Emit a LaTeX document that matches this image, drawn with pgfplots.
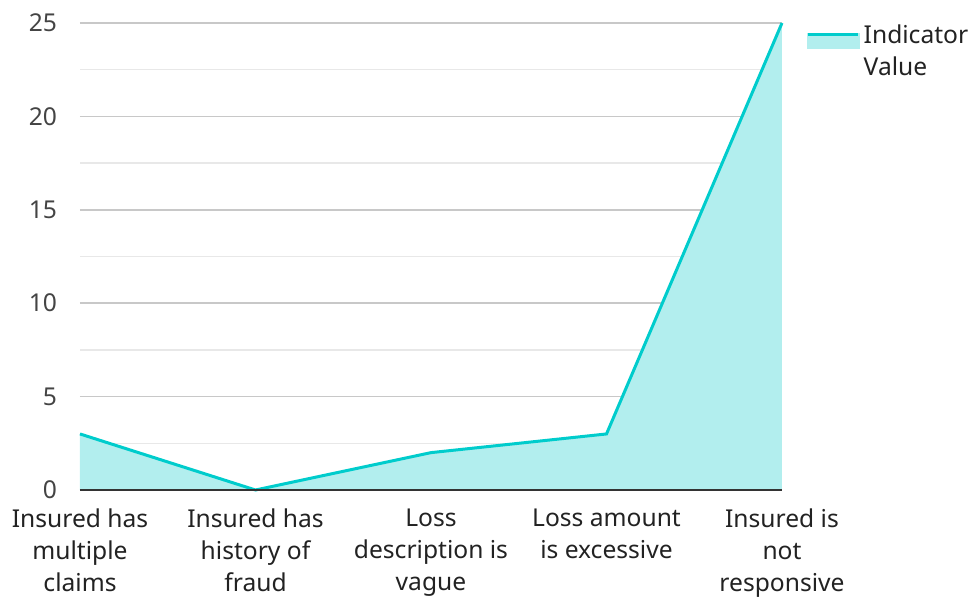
\documentclass[border=0pt]{standalone}
\usepackage{pgfplots}
\pgfplotsset{compat=1.18}
\usepackage{fontspec}
\setmainfont{Noto Sans}
\definecolor{linec}{HTML}{00CCCC}
\definecolor{fillc}{HTML}{B2EEEE}
\definecolor{majg}{HTML}{C8C8C8}
\definecolor{ming}{HTML}{E8E8E8}
\definecolor{ytc}{HTML}{444444}
\definecolor{xtc}{HTML}{222222}
\begin{document}
\begin{tikzpicture}
\begin{axis}[
  name=ax,
  scale only axis,
  width=351pt, height=233.5pt,
  xmin=0, xmax=4, ymin=0, ymax=25,
  axis line style={draw=none},
  xtick={0,1,2,3,4},
  xticklabels={{Insured has\\multiple\\claims},{Insured has\\history of\\fraud},{Loss\\description is\\vague},{Loss amount\\is excessive},{Insured is\\not\\responsive}},
  ytick={0,5,10,15,20,25},
  minor ytick={2.5,7.5,12.5,17.5,22.5},
  major tick length=0pt, minor tick length=0pt,
  ymajorgrids, yminorgrids,
  major grid style={majg, line width=0.75pt},
  minor grid style={ming, line width=0.75pt},
  /pgf/number format/assume math mode=true,
  every tick label/.append style={font=\fontsize{12.3pt}{16pt}\selectfont},
  yticklabel style={text=ytc, xshift=-8pt},
  xticklabel style={text=xtc, align=center, yshift=-6pt},
  legend style={draw=none, fill=none, at={(1.026,1.014)}, anchor=north west,
    font=\fontsize{12.3pt}{16pt}\selectfont, text=xtc,
    nodes={align=left}},
  legend cell align=left,
  clip=false,
]
\addplot[draw=none, fill=fillc, forget plot] coordinates {
  (0,3) (1,0) (2,2) (3,3) (4,25)
} \closedcycle;
\addplot[draw=linec, line width=1.5pt,
  legend image code/.code={
    \fill[fillc] (0cm,0.08cm) rectangle (0.88cm,0.31cm);
    \draw[linec, line width=1.5pt] (0cm,0.31cm) -- (0.88cm,0.31cm);
  }] coordinates {
  (0,3) (1,0) (2,2) (3,3) (4,25)
};
\addlegendentry{Indicator\\Value}
\draw[color=black!80, line width=1pt] (axis cs:0,0) -- (axis cs:4,0);
\end{axis}
\pgfresetboundingbox
\path[use as bounding box] ([xshift=-40pt,yshift=-53.5pt]ax.south west) rectangle ([xshift=96pt,yshift=11.5pt]ax.north east);
\end{tikzpicture}
\end{document}
